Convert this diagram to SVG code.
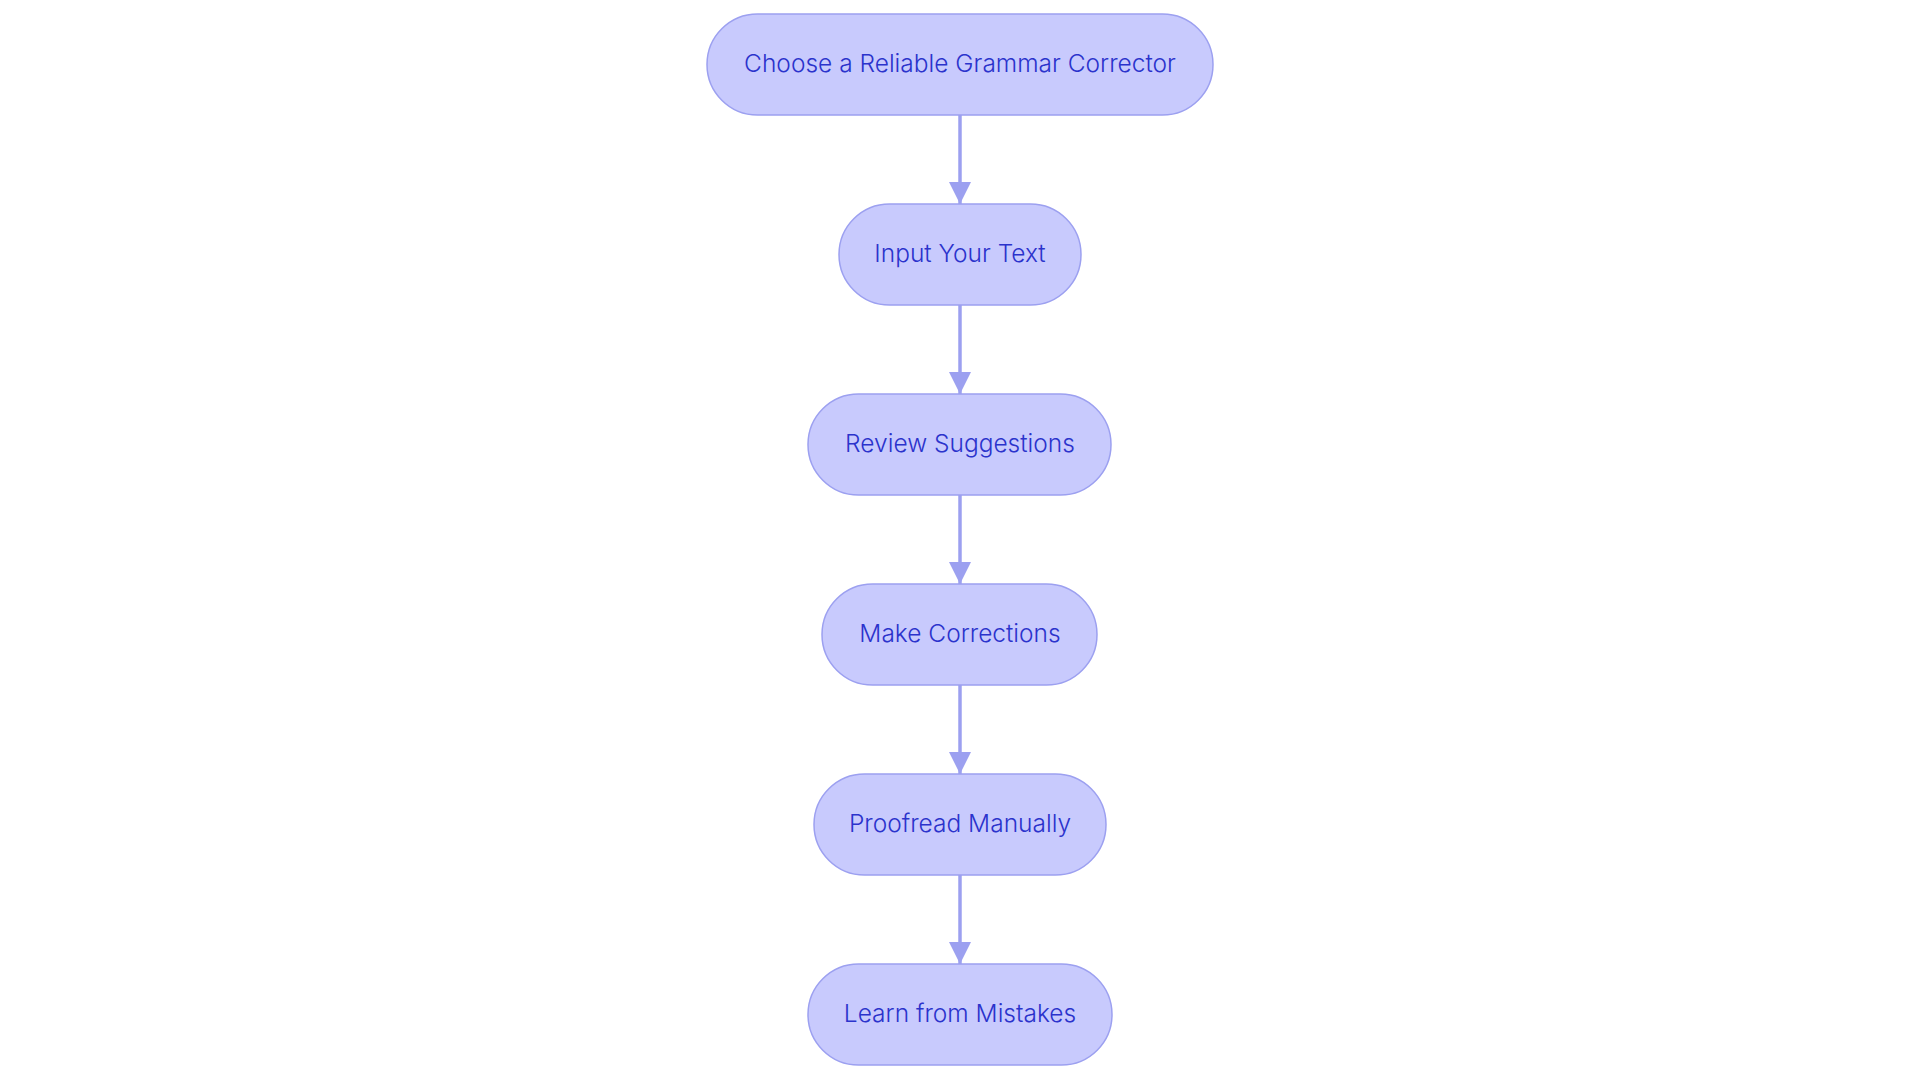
<svg xmlns="http://www.w3.org/2000/svg" width="1920" height="1083" viewBox="0 0 1920 1083">
<defs>
<marker id="arr" viewBox="0 0 22 22" refX="22" refY="11" markerWidth="22" markerHeight="22" markerUnits="userSpaceOnUse" orient="auto">
<path d="M0,0 L22,11 L0,22 Z" fill="#9ca0f0"/>
</marker>
<style>
.node rect{fill:#c8cafd;stroke:#9ca0f0;stroke-width:1.5}
.node text{font-family:Inter,"Noto Sans",sans-serif;font-size:24.5px;font-weight:300;fill:#2b33cc;text-anchor:middle}
.edge{stroke:#9ca0f0;stroke-width:3.5;fill:none}
</style>
</defs>
<rect width="1920" height="1083" fill="#ffffff"/>
<g id="connectors">
<line class="edge" x1="960" y1="115" x2="960" y2="204" marker-end="url(#arr)"/>
<line class="edge" x1="960" y1="305" x2="960" y2="394" marker-end="url(#arr)"/>
<line class="edge" x1="960" y1="495" x2="960" y2="584" marker-end="url(#arr)"/>
<line class="edge" x1="960" y1="685" x2="960" y2="774" marker-end="url(#arr)"/>
<line class="edge" x1="960" y1="875" x2="960" y2="964" marker-end="url(#arr)"/>
</g>
<g id="n1" class="node"><rect x="707" y="14" width="506" height="101" rx="50.5"/><text x="960" y="72">Choose a Reliable Grammar Corrector</text></g>
<g id="n2" class="node"><rect x="839" y="204" width="242" height="101" rx="50.5"/><text x="960" y="262">Input Your Text</text></g>
<g id="n3" class="node"><rect x="808" y="394" width="303" height="101" rx="50.5"/><text x="960" y="452">Review Suggestions</text></g>
<g id="n4" class="node"><rect x="822" y="584" width="275" height="101" rx="50.5"/><text x="960" y="642">Make Corrections</text></g>
<g id="n5" class="node"><rect x="814" y="774" width="292" height="101" rx="50.5"/><text x="960" y="832">Proofread Manually</text></g>
<g id="n6" class="node"><rect x="808" y="964" width="304" height="101" rx="50.5"/><text x="960" y="1022">Learn from Mistakes</text></g>
</svg>
